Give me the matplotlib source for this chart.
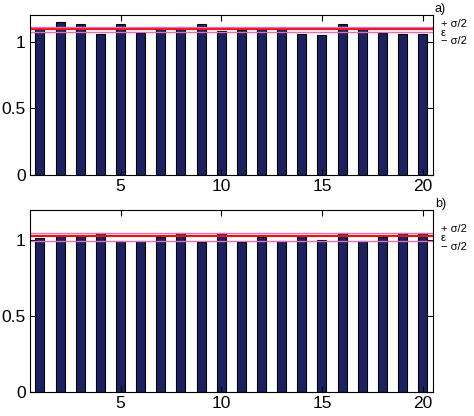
import numpy as np
import matplotlib.pyplot as plt

plt.rcParams['font.family'] = ['Liberation Sans', 'DejaVu Sans']

idx = np.arange(1, 21)
vals_a = [1.095, 1.148, 1.130, 1.058, 1.130, 1.065, 1.108, 1.113, 1.130, 1.080,
          1.088, 1.095, 1.108, 1.058, 1.048, 1.130, 1.095, 1.065, 1.058, 1.058]
vals_b = [1.017, 1.030, 1.030, 1.052, 0.998, 0.998, 1.024, 1.052, 0.991, 1.052,
          0.991, 1.024, 0.998, 1.030, 1.004, 1.052, 0.998, 1.024, 1.052, 1.052]
mean_a, band_a = 1.0925, (1.070, 1.1125)
mean_b, band_b = 1.028, (0.998, 1.052)

fig = plt.figure(figsize=(4.74, 4.16), dpi=100)
ax1 = fig.add_axes([0.063, 0.579, 0.850, 0.385])
ax2 = fig.add_axes([0.063, 0.058, 0.850, 0.437])

# y position (axes fraction) of the sigma note on each panel
panels = [(ax1, vals_a, mean_a, band_a, 'a)', 0.89),
          (ax2, vals_b, mean_b, band_b, 'b)', 0.845)]

for ax, vals, m, band, lab, ty in panels:
    ax.bar(idx, vals, width=0.45, color='#1c2160', edgecolor='black', linewidth=0.8)
    ax.axhline(m, color='#e8101c', lw=1.6)
    for b in band:
        ax.axhline(b, color='#e070b8', lw=1.0)
    ax.set_xlim(0.5, 20.5)
    ax.set_ylim(0, 1.2)
    ax.set_xticks([5, 10, 15, 20])
    ax.set_yticks([0, 0.5, 1])
    ax.set_yticklabels(['0', '0.5', '1'])
    ax.tick_params(direction='in', top=True, right=True, labelsize=12.5,
                   length=4, pad=3)
    ax.text(1.005, 1.0, lab, transform=ax.transAxes, fontsize=9, va='bottom')
    ax.text(1.02, ty, '+ σ/2\nε\n− σ/2', transform=ax.transAxes, fontsize=8,
            va='center', linespacing=0.85)

fig.savefig('out.png', dpi=100)
